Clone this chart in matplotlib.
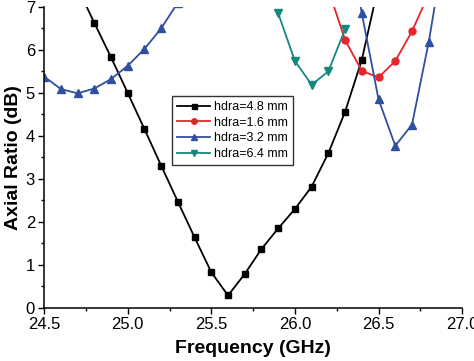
import matplotlib
matplotlib.use("Agg")
import matplotlib.pyplot as plt
from matplotlib.ticker import MultipleLocator

plt.rcParams['font.family'] = ['Liberation Sans', 'DejaVu Sans']

f48 = [24.7, 24.8, 24.9, 25.0, 25.1, 25.2, 25.3, 25.4, 25.5, 25.6, 25.7, 25.8, 25.9, 26.0, 26.1, 26.2, 26.3, 26.4, 26.5]
ar48 = [7.45, 6.63, 5.83, 5.0, 4.16, 3.31, 2.47, 1.64, 0.83, 0.29, 0.79, 1.37, 1.85, 2.3, 2.82, 3.6, 4.56, 5.77, 7.5]

f16 = [26.2, 26.3, 26.4, 26.5, 26.6, 26.7, 26.8]
ar16 = [7.4, 6.23, 5.51, 5.36, 5.74, 6.43, 7.3]

f32a = [24.4, 24.5, 24.6, 24.7, 24.8, 24.9, 25.0, 25.1, 25.2, 25.3]
ar32a = [5.75, 5.38, 5.09, 4.99, 5.1, 5.32, 5.63, 6.02, 6.5, 7.1]
f32b = [26.3, 26.4, 26.5, 26.6, 26.7, 26.8, 26.9]
ar32b = [9.0, 6.85, 4.85, 3.77, 4.26, 6.18, 8.5]

f64 = [25.9, 26.0, 26.1, 26.2, 26.3]
ar64 = [6.85, 5.74, 5.19, 5.5, 6.48]

labels = ["hdra=4.8 mm", "hdra=1.6 mm", "hdra=3.2 mm", "hdra=6.4 mm"]

fig = plt.figure(figsize=(4.74, 3.61), dpi=100)
ax = fig.add_axes([0.093, 0.147, 0.882, 0.834])

lw = 1.3
ms = 4.5
ax.plot(f48, ar48, color='black', marker='s', lw=lw, ms=ms, label=labels[0])
ax.plot(f16, ar16, color='#e8232b', marker='o', lw=lw, ms=ms + 0.5, label=labels[1])
blue = '#2f4fa3'
ax.plot(f32a, ar32a, color=blue, marker='^', lw=lw, ms=ms + 1, label=labels[2])
ax.plot(f32b, ar32b, color=blue, marker='^', lw=lw, ms=ms + 1)
ax.plot(f64, ar64, color='#15897e', marker='v', lw=lw, ms=ms + 1, label=labels[3])

ax.set_xlim(24.5, 27.0)
ax.set_ylim(0, 7)
ax.xaxis.set_major_locator(MultipleLocator(0.5))
ax.xaxis.set_minor_locator(MultipleLocator(0.25))
ax.yaxis.set_major_locator(MultipleLocator(1))
ax.yaxis.set_minor_locator(MultipleLocator(0.5))
ax.tick_params(which='both', direction='out', labelsize=12, width=1)
ax.tick_params(which='major', length=4, pad=2.5)
ax.tick_params(which='minor', length=2.5)
ax.xaxis.set_major_formatter(matplotlib.ticker.FormatStrFormatter('%.1f'))

for s in ['top', 'right']:
    ax.spines[s].set_visible(False)
for s in ['left', 'bottom']:
    ax.spines[s].set_linewidth(1.1)

ax.set_xlabel('Frequency (GHz)', fontsize=14, fontweight='bold', labelpad=6)
ax.set_ylabel('Axial Ratio (dB)', fontsize=14, fontweight='bold', labelpad=3)

leg = ax.legend(loc='upper left', bbox_to_anchor=(0.292, 0.725), fontsize=9,
                frameon=True, fancybox=False, edgecolor='black',
                handlelength=2.6, handletextpad=0.3, labelspacing=0.3,
                borderpad=0.4, markerscale=0.8)
leg.get_frame().set_linewidth(1.0)

fig.savefig('out.png', dpi=100)
